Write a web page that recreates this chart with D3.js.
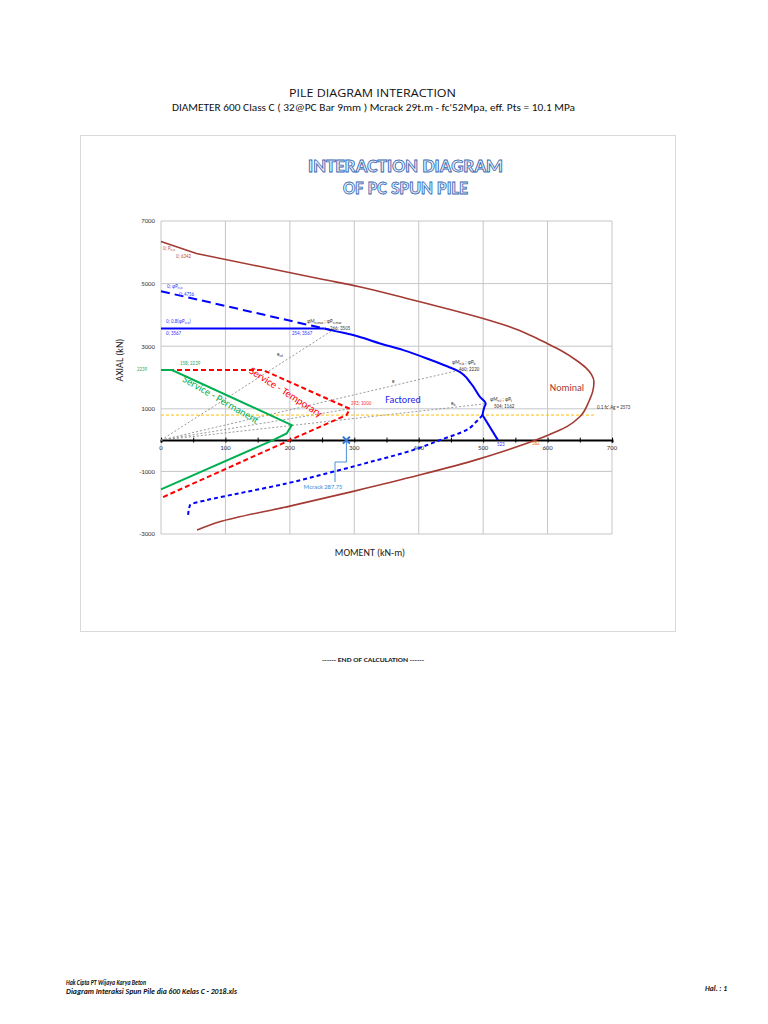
<!DOCTYPE html>
<html><head><meta charset="utf-8">
<script src="https://cdn.jsdelivr.net/npm/d3@7"></script>
<style>body{margin:0;background:#fff}svg{display:block}</style>
</head><body>
<script>
// ---------- data ----------
const xTicks = [0,100,200,300,400,500,600,700];
const yTicks = [7000,5000,3000,1000,-1000,-3000];

const nominalM = [0,55,150,250,308,391,450,500,540,572,600,620,644,660,668,672,670,665,650,630,613,582,540,494,401,300,200,91,56];
const nominalP = [6342,5960,5560,5140,4900,4473,4166,3886,3626,3360,3080,2870,2560,2300,2100,1863,1550,1278,745,430,265,0,-300,-600,-1118,-1630,-2110,-2610,-2875];

const factoredM = [0,254,266,298,340,376,420,445,460,481,495,504,502,499,523];
const factoredP = [3567,3567,3505,3355,3088,2875,2550,2350,2220,1811,1383,1162,1064,800,0];

const factoredUpperM = [0,266];
const factoredUpperP = [4756,3505];

const factoredLowerM = [499,490,474,433,391,330,267,195,120,71,45,42];
const factoredLowerP = [800,600,320,0,-320,-670,-1012,-1385,-1707,-1917,-2077,-2400];

const permanentM = [0,17,203,195,174,0];
const permanentP = [2239,2239,480,214,0,-1575];

const temporaryM = [0,158,293,288,200,0];
const temporaryP = [2239,2239,1000,800,0,-1850];

const eccM = [266,460,504,293];
const eccP = [3505,2220,1162,1000];

const limitP = 800;      // 0.1 fc' Ag line
const limitMmax = 673;
const mcrack = 287.75;

// ---------- layout ----------
const W = 768, H = 1024;
const svg = d3.select("body").append("svg").attr("width", W).attr("height", H);
const FONT = "Carlito, Lato, 'Open Sans', sans-serif";

svg.append("text").attr("x",372.5).attr("y",97).attr("text-anchor","middle")
  .attr("font-family","'Open Sans', sans-serif").attr("font-weight",400).attr("font-size",11.5).attr("fill","#111")
  .attr("textLength",167).attr("lengthAdjust","spacingAndGlyphs")
  .text("PILE DIAGRAM INTERACTION");
svg.append("text").attr("x",373.5).attr("y",110.5).attr("text-anchor","middle")
  .attr("font-family",FONT).attr("font-size",9.5).attr("fill","#111")
  .attr("textLength",403).attr("lengthAdjust","spacingAndGlyphs")
  .text("DIAMETER 600 Class C ( 32@PC Bar 9mm ) Mcrack 29t.m - fc'52Mpa, eff. Pts = 10.1 MPa");

// chart box
svg.append("rect").attr("x",80.5).attr("y",135.5).attr("width",595).attr("height",496)
  .attr("fill","#fff").attr("stroke","#d9d9d9").attr("stroke-width",1);

// chart title (outlined)
[["INTERACTION DIAGRAM",171.5,195],["OF PC SPUN PILE",193.5,125]].forEach(([t,yy,w])=>{
  svg.append("text").attr("x",405.5).attr("y",yy).attr("text-anchor","middle")
    .attr("font-family",FONT).attr("font-weight","bold").attr("font-size",18)
    .attr("fill","#eef3fa").attr("stroke","#3466b0").attr("stroke-width",0.8)
    .attr("textLength",w).attr("lengthAdjust","spacingAndGlyphs").text(t);
});

const x = d3.scaleLinear().domain([0,700]).range([161,612]);
const y = d3.scaleLinear().domain([-3000,7000]).range([534,221]);

// grid
const g = svg.append("g");
g.selectAll(".vg").data(xTicks).enter().append("line")
  .attr("x1",d=>x(d)).attr("x2",d=>x(d)).attr("y1",y(7000)).attr("y2",y(-3000))
  .attr("stroke","#c6c6c6").attr("stroke-width",1);
g.selectAll(".hg").data(yTicks).enter().append("line")
  .attr("x1",x(0)).attr("x2",x(700)).attr("y1",d=>y(d)).attr("y2",d=>y(d))
  .attr("stroke","#c6c6c6").attr("stroke-width",1);

// y tick labels
g.selectAll(".yl").data(yTicks).enter().append("text")
  .attr("x",155).attr("y",d=>y(d)+2.3).attr("text-anchor","end")
  .attr("font-family",FONT).attr("font-size",6.8).attr("fill","#333")
  .text(d=>d);

// zero axis
const xAxis = d3.axisBottom(x).tickValues(d3.range(0,701,50)).tickSize(2.5).tickFormat("");
const ax = svg.append("g").attr("transform",`translate(0,${y(0)})`).call(xAxis);
ax.select(".domain").attr("stroke","#000").attr("stroke-width",2);
ax.selectAll(".tick line").attr("stroke","#000").attr("stroke-width",1).attr("y1",-2.5);
svg.selectAll(".xl").data(xTicks).enter().append("text")
  .attr("x",d=>x(d)).attr("y",450).attr("text-anchor","middle")
  .attr("font-family",FONT).attr("font-size",6.8).attr("fill","#333").text(d=>d);

// axis titles
svg.append("text").attr("transform","translate(123,360) rotate(-90)").attr("text-anchor","middle")
  .attr("font-family",FONT).attr("font-size",10).attr("fill","#222").text("AXIAL (kN)");
svg.append("text").attr("x",370).attr("y",556).attr("text-anchor","middle")
  .attr("font-family",FONT).attr("font-size",10).attr("fill","#222").text("MOMENT (kN-m)");

const pts = (M,P)=>M.map((m,i)=>[m,P[i]]);
const lineL = d3.line().x(d=>x(d[0])).y(d=>y(d[1]));
const lineMY = d3.line().x(d=>x(d[0])).y(d=>y(d[1])).curve(d3.curveMonotoneY);

// eccentricity lines
svg.selectAll(".ecc").data(pts(eccM,eccP)).enter().append("line")
  .attr("x1",x(0)).attr("y1",y(0)).attr("x2",d=>x(d[0])).attr("y2",d=>y(d[1]))
  .attr("stroke","#7f7f7f").attr("stroke-width",0.8).attr("stroke-dasharray","2,2");

// 0.1 fc' Ag line
svg.append("line").attr("x1",x(0)).attr("x2",x(limitMmax)).attr("y1",y(limitP)).attr("y2",y(limitP))
  .attr("stroke","#ffc000").attr("stroke-width",1).attr("stroke-dasharray","3,2");

// curves
const nom = pts(nominalM,nominalP);
svg.append("path").attr("d",lineL(nom.slice(0,2)) + lineMY(nom.slice(1)).replace(/^M[^C]*/, m=>"L"+m.slice(1)))
  .attr("fill","none").attr("stroke","#a33a34").attr("stroke-width",1.6);
svg.append("path").attr("d",lineL(pts(temporaryM,temporaryP))).attr("fill","none")
  .attr("stroke","#ff0000").attr("stroke-width",2).attr("stroke-dasharray","5,3");
svg.append("path").attr("d",lineL(pts(permanentM,permanentP))).attr("fill","none")
  .attr("stroke","#00b050").attr("stroke-width",2);
svg.append("path").attr("d",lineL(pts(factoredUpperM,factoredUpperP))).attr("fill","none")
  .attr("stroke","#0000ff").attr("stroke-width",2).attr("stroke-dasharray","9,5");
svg.append("path").attr("d",lineMY(pts(factoredLowerM,factoredLowerP))).attr("fill","none")
  .attr("stroke","#0000ff").attr("stroke-width",2).attr("stroke-dasharray","4,3");
const fac = pts(factoredM,factoredP);
const nF = fac.length;
const facG = svg.append("g").attr("fill","none").attr("stroke","#0000ff").attr("stroke-width",2)
  .attr("stroke-linejoin","round");
facG.append("path").attr("d",lineL(fac.slice(0,2)));
facG.append("path").attr("d",lineMY(fac.slice(1,nF-1)));
facG.append("path").attr("d",lineL(fac.slice(nF-2)));

// Mcrack marker + callout
const mx = x(mcrack), my = y(0);
svg.append("path").attr("d",`M${mx},${my} V462 H335 V482`).attr("fill","none")
  .attr("stroke","#4a90d9").attr("stroke-width",1);
svg.append("path").attr("d",`M${mx-3.5},${my-3.5}L${mx+3.5},${my+3.5}M${mx-3.5},${my+3.5}L${mx+3.5},${my-3.5}`)
  .attr("stroke","#2e75d6").attr("stroke-width",2);
svg.append("text").attr("x",323).attr("y",489).attr("text-anchor","middle")
  .attr("font-family",FONT).attr("font-size",6.5).attr("fill","#3c8ad8").text("Mcrack " + mcrack);

// small labels
function lab(t,xx,yy,col,size,anchor){
  return svg.append("text").attr("x",xx).attr("y",yy).attr("font-family",FONT)
    .attr("font-size",size||5).attr("fill",col).attr("text-anchor",anchor||"start").text(t);
}
function labSub(parts,xx,yy,col){
  const t = svg.append("text").attr("x",xx).attr("y",yy).attr("font-family",FONT)
    .attr("font-size",5).attr("fill",col);
  parts.forEach(p=>{
    const s = t.append("tspan").text(p[0]);
    if(p[1]) s.attr("font-size",3.5).attr("dy",1.2); else s.attr("dy",p[2]||0);
  });
  return t;
}
labSub([["0; P"],["n,o",1]],163,250,"#c0504d");
lab("0; "+nominalP[0],176,257.5,"#c0504d");
labSub([["0; φP"],["n,o",1]],167,288,"#3333ff");
lab("0; "+factoredUpperP[0],179,295.5,"#3333ff");
labSub([["0; 0.8(φP"],["n,o",1],[")",0,-1.2]],166,323,"#3333ff");
lab("0; "+factoredP[0],166,335,"#3333ff");
labSub([["φM"],["n,max",1],[" ; φP",0,-1.2],["n,max",1]],307,323,"#333");
lab(factoredM[2]+"; "+factoredP[2],330,329.5,"#333");
lab(factoredM[1]+"; "+factoredP[1],292,335,"#3333ff");
labSub([["φM"],["n,b",1],[" ; φP",0,-1.2],["b",1]],452,364,"#333");
lab(eccM[1]+"; "+eccP[1],459,371,"#333");
labSub([["φM"],["n,t",1],[" ; φP",0,-1.2],["t",1]],490,400.5,"#333");
lab(eccM[2]+"; "+eccP[2],494,407.5,"#333");
lab("0.1 fc' Ag = 2573",597,409,"#333");
lab(temporaryM[2]+"; "+temporaryP[2],351,405,"#ff3333");
lab(temporaryM[1]+"; "+temporaryP[1],180,365,"#33aa66");
lab(String(permanentP[0]),137,371,"#33aa66");
lab(String(factoredM[nF-1]),497,446,"#3333ff");
lab(String(nominalM[21]),532,445,"#e46c0a");
labSub([["e"],["cd",1]],277,356,"#333");
labSub([["e"],["",1]],392,383,"#333");
labSub([["e"],["b",1]],451,405,"#333");

// series names
lab("Nominal",567,391,"#a33a34",10,"middle");
lab("Factored",403,403,"#2222ee",10,"middle");
svg.append("text").attr("transform","translate(284,395) rotate(32.4)").attr("text-anchor","middle")
  .attr("font-family",FONT).attr("font-size",10.5).attr("fill","#ff0000").text("Service - Temporary");
svg.append("text").attr("transform","translate(219,402.5) rotate(30)").attr("text-anchor","middle")
  .attr("font-family",FONT).attr("font-size",10.5).attr("fill","#00b050").text("Service - Permanent");

// footer
lab("------ END OF CALCULATION ------",373,662,"#222",6.5,"middle").attr("font-weight","bold")
  .attr("textLength",102).attr("lengthAdjust","spacingAndGlyphs");
lab("Hak Cipta PT Wijaya Karya Beton",66,985,"#111",7).attr("font-style","italic").attr("font-weight","bold")
  .attr("textLength",80).attr("lengthAdjust","spacingAndGlyphs");
lab("Diagram Interaksi Spun Pile dia 600 Kelas C - 2018.xls",66,994,"#111",7).attr("font-style","italic").attr("font-weight","bold")
  .attr("textLength",171).attr("lengthAdjust","spacingAndGlyphs");
lab("Hal. : 1",705,991,"#111",7).attr("font-style","italic").attr("font-weight","bold")
  .attr("textLength",22).attr("lengthAdjust","spacingAndGlyphs");
</script>
</body></html>
